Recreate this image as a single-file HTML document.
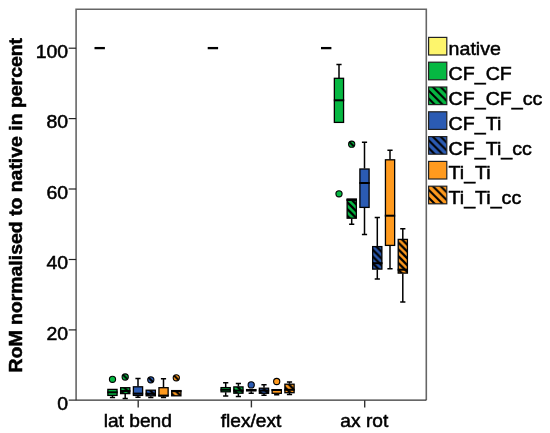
<!DOCTYPE html>
<html><head><meta charset="utf-8"><title>RoM normalised to native in percent</title>
<style>html,body{margin:0;padding:0;background:#fff}svg{display:block}text{font-family:"Liberation Sans",Arial,Helvetica,sans-serif;fill:#000}</style>
</head><body>
<svg width="550" height="433" viewBox="0 0 550 433">
<defs>
<pattern id="hg0" patternUnits="userSpaceOnUse" width="7.8" height="7.8" patternTransform="translate(428.10,90.10)"><rect width="7.8" height="7.8" fill="#06b842"/><path d="M-7.8,-7.8 L15.6,15.6 M-7.8,0 L7.8,15.6 M0,-7.8 L15.6,7.8" stroke="#000" stroke-width="2.1"/></pattern>
<pattern id="hb1" patternUnits="userSpaceOnUse" width="7.8" height="7.8" patternTransform="translate(428.10,139.70)"><rect width="7.8" height="7.8" fill="#2b5bb3"/><path d="M-7.8,-7.8 L15.6,15.6 M-7.8,0 L7.8,15.6 M0,-7.8 L15.6,7.8" stroke="#000" stroke-width="2.1"/></pattern>
<pattern id="ho2" patternUnits="userSpaceOnUse" width="7.8" height="7.8" patternTransform="translate(428.10,189.30)"><rect width="7.8" height="7.8" fill="#ff9a1e"/><path d="M-7.8,-7.8 L15.6,15.6 M-7.8,0 L7.8,15.6 M0,-7.8 L15.6,7.8" stroke="#000" stroke-width="2.1"/></pattern>
<pattern id="hg3" patternUnits="userSpaceOnUse" width="6.8" height="6.8" patternTransform="translate(119.68,389.80)"><rect width="6.8" height="6.8" fill="#06b842"/><path d="M-6.8,-6.8 L13.6,13.6 M-6.8,0 L6.8,13.6 M0,-6.8 L13.6,6.8" stroke="#000" stroke-width="2.3"/></pattern>
<pattern id="hg4" patternUnits="userSpaceOnUse" width="6.8" height="6.8" patternTransform="translate(121.63,373.40)"><rect width="6.8" height="6.8" fill="#06b842"/><path d="M-6.8,-6.8 L13.6,13.6 M-6.8,0 L6.8,13.6 M0,-6.8 L13.6,6.8" stroke="#000" stroke-width="2.0"/></pattern>
<pattern id="hb5" patternUnits="userSpaceOnUse" width="6.8" height="6.8" patternTransform="translate(145.22,392.30)"><rect width="6.8" height="6.8" fill="#2b5bb3"/><path d="M-6.8,-6.8 L13.6,13.6 M-6.8,0 L6.8,13.6 M0,-6.8 L13.6,6.8" stroke="#000" stroke-width="2.3"/></pattern>
<pattern id="hb6" patternUnits="userSpaceOnUse" width="6.8" height="6.8" patternTransform="translate(147.17,376.20)"><rect width="6.8" height="6.8" fill="#2b5bb3"/><path d="M-6.8,-6.8 L13.6,13.6 M-6.8,0 L6.8,13.6 M0,-6.8 L13.6,6.8" stroke="#000" stroke-width="2.0"/></pattern>
<pattern id="ho7" patternUnits="userSpaceOnUse" width="6.8" height="6.8" patternTransform="translate(170.76,392.70)"><rect width="6.8" height="6.8" fill="#ff9a1e"/><path d="M-6.8,-6.8 L13.6,13.6 M-6.8,0 L6.8,13.6 M0,-6.8 L13.6,6.8" stroke="#000" stroke-width="2.3"/></pattern>
<pattern id="ho8" patternUnits="userSpaceOnUse" width="6.8" height="6.8" patternTransform="translate(172.71,374.20)"><rect width="6.8" height="6.8" fill="#ff9a1e"/><path d="M-6.8,-6.8 L13.6,13.6 M-6.8,0 L6.8,13.6 M0,-6.8 L13.6,6.8" stroke="#000" stroke-width="2.0"/></pattern>
<pattern id="hg9" patternUnits="userSpaceOnUse" width="6.8" height="6.8" patternTransform="translate(232.88,389.00)"><rect width="6.8" height="6.8" fill="#06b842"/><path d="M-6.8,-6.8 L13.6,13.6 M-6.8,0 L6.8,13.6 M0,-6.8 L13.6,6.8" stroke="#000" stroke-width="2.3"/></pattern>
<pattern id="hb10" patternUnits="userSpaceOnUse" width="6.8" height="6.8" patternTransform="translate(258.42,390.30)"><rect width="6.8" height="6.8" fill="#2b5bb3"/><path d="M-6.8,-6.8 L13.6,13.6 M-6.8,0 L6.8,13.6 M0,-6.8 L13.6,6.8" stroke="#000" stroke-width="2.3"/></pattern>
<pattern id="ho11" patternUnits="userSpaceOnUse" width="6.8" height="6.8" patternTransform="translate(283.96,386.30)"><rect width="6.8" height="6.8" fill="#ff9a1e"/><path d="M-6.8,-6.8 L13.6,13.6 M-6.8,0 L6.8,13.6 M0,-6.8 L13.6,6.8" stroke="#000" stroke-width="2.3"/></pattern>
<pattern id="hg12" patternUnits="userSpaceOnUse" width="6.8" height="6.8" patternTransform="translate(346.18,201.10)"><rect width="6.8" height="6.8" fill="#06b842"/><path d="M-6.8,-6.8 L13.6,13.6 M-6.8,0 L6.8,13.6 M0,-6.8 L13.6,6.8" stroke="#000" stroke-width="2.3"/></pattern>
<pattern id="hg13" patternUnits="userSpaceOnUse" width="6.8" height="6.8" patternTransform="translate(348.13,140.60)"><rect width="6.8" height="6.8" fill="#06b842"/><path d="M-6.8,-6.8 L13.6,13.6 M-6.8,0 L6.8,13.6 M0,-6.8 L13.6,6.8" stroke="#000" stroke-width="2.0"/></pattern>
<pattern id="hb14" patternUnits="userSpaceOnUse" width="6.8" height="6.8" patternTransform="translate(371.72,248.70)"><rect width="6.8" height="6.8" fill="#2b5bb3"/><path d="M-6.8,-6.8 L13.6,13.6 M-6.8,0 L6.8,13.6 M0,-6.8 L13.6,6.8" stroke="#000" stroke-width="2.3"/></pattern>
<pattern id="ho15" patternUnits="userSpaceOnUse" width="6.8" height="6.8" patternTransform="translate(397.26,241.50)"><rect width="6.8" height="6.8" fill="#ff9a1e"/><path d="M-6.8,-6.8 L13.6,13.6 M-6.8,0 L6.8,13.6 M0,-6.8 L13.6,6.8" stroke="#000" stroke-width="2.3"/></pattern>
</defs>
<rect width="550" height="433" fill="#fff"/>
<path d="M76.1,400.2 V9.2 H426.3 V400.2" fill="none" stroke="#666" stroke-width="1.6"/>
<path d="M68.69999999999999,400.2 H426.3" fill="none" stroke="#333" stroke-width="1.3"/>
<text transform="translate(68.1,410.1) scale(1.08,1)" font-size="18" text-anchor="end" stroke="#000" stroke-width="0.5">0</text>
<path d="M68.69999999999999,329.9 H76.1" stroke="#222" stroke-width="1.2"/>
<text transform="translate(68.1,339.7) scale(1.08,1)" font-size="18" text-anchor="end" stroke="#000" stroke-width="0.5">20</text>
<path d="M68.69999999999999,259.5 H76.1" stroke="#222" stroke-width="1.2"/>
<text transform="translate(68.1,269.3) scale(1.08,1)" font-size="18" text-anchor="end" stroke="#000" stroke-width="0.5">40</text>
<path d="M68.69999999999999,189.0 H76.1" stroke="#222" stroke-width="1.2"/>
<text transform="translate(68.1,198.8) scale(1.08,1)" font-size="18" text-anchor="end" stroke="#000" stroke-width="0.5">60</text>
<path d="M68.69999999999999,118.6 H76.1" stroke="#222" stroke-width="1.2"/>
<text transform="translate(68.1,128.4) scale(1.08,1)" font-size="18" text-anchor="end" stroke="#000" stroke-width="0.5">80</text>
<path d="M68.69999999999999,48.2 H76.1" stroke="#222" stroke-width="1.2"/>
<text transform="translate(68.1,58.0) scale(1.08,1)" font-size="18" text-anchor="end" stroke="#000" stroke-width="0.5">100</text>
<path d="M138.2,400.2 V407.4" stroke="#333" stroke-width="1.4"/>
<text transform="translate(137.8,427.0) scale(1.065,1)" font-size="18" text-anchor="middle" stroke="#000" stroke-width="0.5">lat bend</text>
<path d="M251.39999999999998,400.2 V407.4" stroke="#333" stroke-width="1.4"/>
<text transform="translate(251.0,427.0) scale(1.065,1)" font-size="18" text-anchor="middle" stroke="#000" stroke-width="0.5">flex/ext</text>
<path d="M364.7,400.2 V407.4" stroke="#333" stroke-width="1.4"/>
<text transform="translate(364.3,427.0) scale(1.065,1)" font-size="18" text-anchor="middle" stroke="#000" stroke-width="0.5">ax rot</text>
<text transform="translate(22.2,205.2) rotate(-90) scale(1.08,1)" font-size="18" text-anchor="middle" font-weight="bold" stroke="#000" stroke-width="0.5">RoM normalised to native in percent</text>
<rect x="428.6" y="37.4" width="18.2" height="17.6" fill="#fdf56c" stroke="#222" stroke-width="1.2"/>
<text transform="translate(448.6,55.4) scale(1.09,1)" font-size="18" text-anchor="start" stroke="#000" stroke-width="0.5">native</text>
<rect x="428.6" y="62.2" width="18.2" height="17.6" fill="#06b842" stroke="#222" stroke-width="1.2"/>
<text transform="translate(448.6,80.2) scale(1.09,1)" font-size="18" text-anchor="start" stroke="#000" stroke-width="0.5">CF_CF</text>
<rect x="428.6" y="87.0" width="18.2" height="17.6" fill="url(#hg0)" stroke="#222" stroke-width="1.2"/>
<text transform="translate(448.6,105.0) scale(1.09,1)" font-size="18" text-anchor="start" stroke="#000" stroke-width="0.5">CF_CF_cc</text>
<rect x="428.6" y="111.8" width="18.2" height="17.6" fill="#2b5bb3" stroke="#222" stroke-width="1.2"/>
<text transform="translate(448.6,129.8) scale(1.09,1)" font-size="18" text-anchor="start" stroke="#000" stroke-width="0.5">CF_Ti</text>
<rect x="428.6" y="136.6" width="18.2" height="17.6" fill="url(#hb1)" stroke="#222" stroke-width="1.2"/>
<text transform="translate(448.6,154.6) scale(1.09,1)" font-size="18" text-anchor="start" stroke="#000" stroke-width="0.5">CF_Ti_cc</text>
<rect x="428.6" y="161.4" width="18.2" height="17.6" fill="#ff9a1e" stroke="#222" stroke-width="1.2"/>
<text transform="translate(448.6,179.4) scale(1.09,1)" font-size="18" text-anchor="start" stroke="#000" stroke-width="0.5">Ti_Ti</text>
<rect x="428.6" y="186.2" width="18.2" height="17.6" fill="url(#ho2)" stroke="#222" stroke-width="1.2"/>
<text transform="translate(448.6,204.2) scale(1.09,1)" font-size="18" text-anchor="start" stroke="#000" stroke-width="0.5">Ti_Ti_cc</text>
<path d="M94.5,48.1 H104.9" stroke="#000" stroke-width="2.3"/>
<path d="M207.7,48.1 H218.1" stroke="#000" stroke-width="2.3"/>
<path d="M321.0,48.1 H331.4" stroke="#000" stroke-width="2.3"/>
<path d="M112.5,395.8 V397.6 M109.9,397.6 H115.1" fill="none" stroke="#000" stroke-width="1.5"/>
<rect x="107.86" y="389.4" width="9.2" height="6.0" fill="#06b842" stroke="#000" stroke-width="1.3"/>
<path d="M107.3,392.3 H117.7" stroke="#000" stroke-width="2"/>
<circle cx="112.5" cy="379.3" r="3.1" fill="#06b842" stroke="#000" stroke-width="1.1"/>
<path d="M125.2,394.0 V398.6 M122.6,398.6 H127.8" fill="none" stroke="#000" stroke-width="1.5"/>
<rect x="120.63" y="387.7" width="9.2" height="5.9" fill="url(#hg3)" stroke="#000" stroke-width="1.3"/>
<path d="M120.0,391.0 H130.4" stroke="#000" stroke-width="2"/>
<circle cx="125.2" cy="377.0" r="3.1" fill="url(#hg4)" stroke="#000" stroke-width="1.1"/>
<path d="M138.0,386.4 V378.6 M135.4,378.6 H140.6 M138.0,395.8 V397.3 M135.4,397.3 H140.6" fill="none" stroke="#000" stroke-width="1.5"/>
<rect x="133.40" y="386.8" width="9.2" height="8.6" fill="#2b5bb3" stroke="#000" stroke-width="1.3"/>
<path d="M132.8,393.6 H143.2" stroke="#000" stroke-width="2"/>
<path d="M150.8,396.2 V397.6 M148.2,397.6 H153.4" fill="none" stroke="#000" stroke-width="1.5"/>
<rect x="146.17" y="390.2" width="9.2" height="5.6" fill="url(#hb5)" stroke="#000" stroke-width="1.3"/>
<path d="M145.6,393.8 H156.0" stroke="#000" stroke-width="2"/>
<circle cx="150.8" cy="379.8" r="3.1" fill="url(#hb6)" stroke="#000" stroke-width="1.1"/>
<path d="M163.5,387.3 V378.8 M160.9,378.8 H166.1 M163.5,396.2 V397.4 M160.9,397.4 H166.1" fill="none" stroke="#000" stroke-width="1.5"/>
<rect x="158.94" y="387.7" width="9.2" height="8.1" fill="#ff9a1e" stroke="#000" stroke-width="1.3"/>
<path d="M158.3,395.6 H168.7" stroke="#000" stroke-width="2"/>
<rect x="171.71" y="390.6" width="9.2" height="5.2" fill="url(#ho7)" stroke="#000" stroke-width="1.3"/>
<path d="M171.1,391.2 H181.5" stroke="#000" stroke-width="2"/>
<circle cx="176.3" cy="377.8" r="3.1" fill="url(#ho8)" stroke="#000" stroke-width="1.1"/>
<path d="M225.7,387.2 V382.8 M223.1,382.8 H228.3 M225.7,392.2 V396.0 M223.1,396.0 H228.3" fill="none" stroke="#000" stroke-width="1.5"/>
<rect x="221.06" y="387.6" width="9.2" height="4.2" fill="#06b842" stroke="#000" stroke-width="1.3"/>
<path d="M220.5,389.8 H230.9" stroke="#000" stroke-width="2"/>
<path d="M238.4,386.5 V383.6 M235.8,383.6 H241.0 M238.4,393.6 V396.4 M235.8,396.4 H241.0" fill="none" stroke="#000" stroke-width="1.5"/>
<rect x="233.83" y="386.9" width="9.2" height="6.3" fill="url(#hg9)" stroke="#000" stroke-width="1.3"/>
<path d="M233.2,390.6 H243.6" stroke="#000" stroke-width="2"/>
<path d="M251.2,391.2 V393.2 M248.6,393.2 H253.8" fill="none" stroke="#000" stroke-width="1.5"/>
<rect x="246.60" y="389.6" width="9.2" height="1.2" fill="#2b5bb3" stroke="#000" stroke-width="1.3"/>
<path d="M246.0,390.2 H256.4" stroke="#000" stroke-width="2"/>
<circle cx="251.2" cy="384.9" r="3.1" fill="#2b5bb3" stroke="#000" stroke-width="1.1"/>
<path d="M264.0,387.8 V384.7 M261.4,384.7 H266.6 M264.0,393.7 V395.3 M261.4,395.3 H266.6" fill="none" stroke="#000" stroke-width="1.5"/>
<rect x="259.37" y="388.2" width="9.2" height="5.1" fill="url(#hb10)" stroke="#000" stroke-width="1.3"/>
<path d="M258.8,390.6 H269.2" stroke="#000" stroke-width="2"/>
<path d="M276.7,393.7 V394.8 M274.1,394.8 H279.3" fill="none" stroke="#000" stroke-width="1.5"/>
<rect x="272.14" y="389.8" width="9.2" height="3.5" fill="#ff9a1e" stroke="#000" stroke-width="1.3"/>
<path d="M271.5,390.0 H281.9" stroke="#000" stroke-width="2"/>
<circle cx="276.7" cy="381.5" r="3.1" fill="#ff9a1e" stroke="#000" stroke-width="1.1"/>
<path d="M289.5,383.8 V381.9 M286.9,381.9 H292.1 M289.5,393.1 V394.4 M286.9,394.4 H292.1" fill="none" stroke="#000" stroke-width="1.5"/>
<rect x="284.91" y="384.2" width="9.2" height="8.5" fill="url(#ho11)" stroke="#000" stroke-width="1.3"/>
<path d="M284.3,389.8 H294.7" stroke="#000" stroke-width="2"/>
<path d="M339.0,77.9 V64.6 M336.4,64.6 H341.6" fill="none" stroke="#000" stroke-width="1.5"/>
<rect x="334.36" y="78.3" width="9.2" height="44.1" fill="#06b842" stroke="#000" stroke-width="1.3"/>
<path d="M333.8,100.3 H344.2" stroke="#000" stroke-width="2"/>
<circle cx="339.0" cy="193.8" r="3.1" fill="#06b842" stroke="#000" stroke-width="1.1"/>
<path d="M351.7,218.6 V224.2 M349.1,224.2 H354.3" fill="none" stroke="#000" stroke-width="1.5"/>
<rect x="347.13" y="199.0" width="9.2" height="19.2" fill="url(#hg12)" stroke="#000" stroke-width="1.3"/>
<path d="M346.5,200.0 H356.9" stroke="#000" stroke-width="2"/>
<circle cx="351.7" cy="144.2" r="3.1" fill="url(#hg13)" stroke="#000" stroke-width="1.1"/>
<path d="M364.5,168.6 V142.2 M361.9,142.2 H367.1 M364.5,207.8 V234.5 M361.9,234.5 H367.1" fill="none" stroke="#000" stroke-width="1.5"/>
<rect x="359.90" y="169.0" width="9.2" height="38.4" fill="#2b5bb3" stroke="#000" stroke-width="1.3"/>
<path d="M359.3,183.0 H369.7" stroke="#000" stroke-width="2"/>
<path d="M377.3,246.2 V217.6 M374.7,217.6 H379.9 M377.3,269.5 V278.9 M374.7,278.9 H379.9" fill="none" stroke="#000" stroke-width="1.5"/>
<rect x="372.67" y="246.6" width="9.2" height="22.5" fill="url(#hb14)" stroke="#000" stroke-width="1.3"/>
<path d="M372.1,263.2 H382.5" stroke="#000" stroke-width="2"/>
<path d="M390.0,159.4 V150.2 M387.4,150.2 H392.6 M390.0,245.8 V268.8 M387.4,268.8 H392.6" fill="none" stroke="#000" stroke-width="1.5"/>
<rect x="385.44" y="159.8" width="9.2" height="85.6" fill="#ff9a1e" stroke="#000" stroke-width="1.3"/>
<path d="M384.8,215.7 H395.2" stroke="#000" stroke-width="2"/>
<path d="M402.8,239.0 V228.8 M400.2,228.8 H405.4 M402.8,273.5 V302.0 M400.2,302.0 H405.4" fill="none" stroke="#000" stroke-width="1.5"/>
<rect x="398.21" y="239.4" width="9.2" height="33.7" fill="url(#ho15)" stroke="#000" stroke-width="1.3"/>
<path d="M397.6,269.7 H408.0" stroke="#000" stroke-width="2"/>
</svg>
</body></html>
